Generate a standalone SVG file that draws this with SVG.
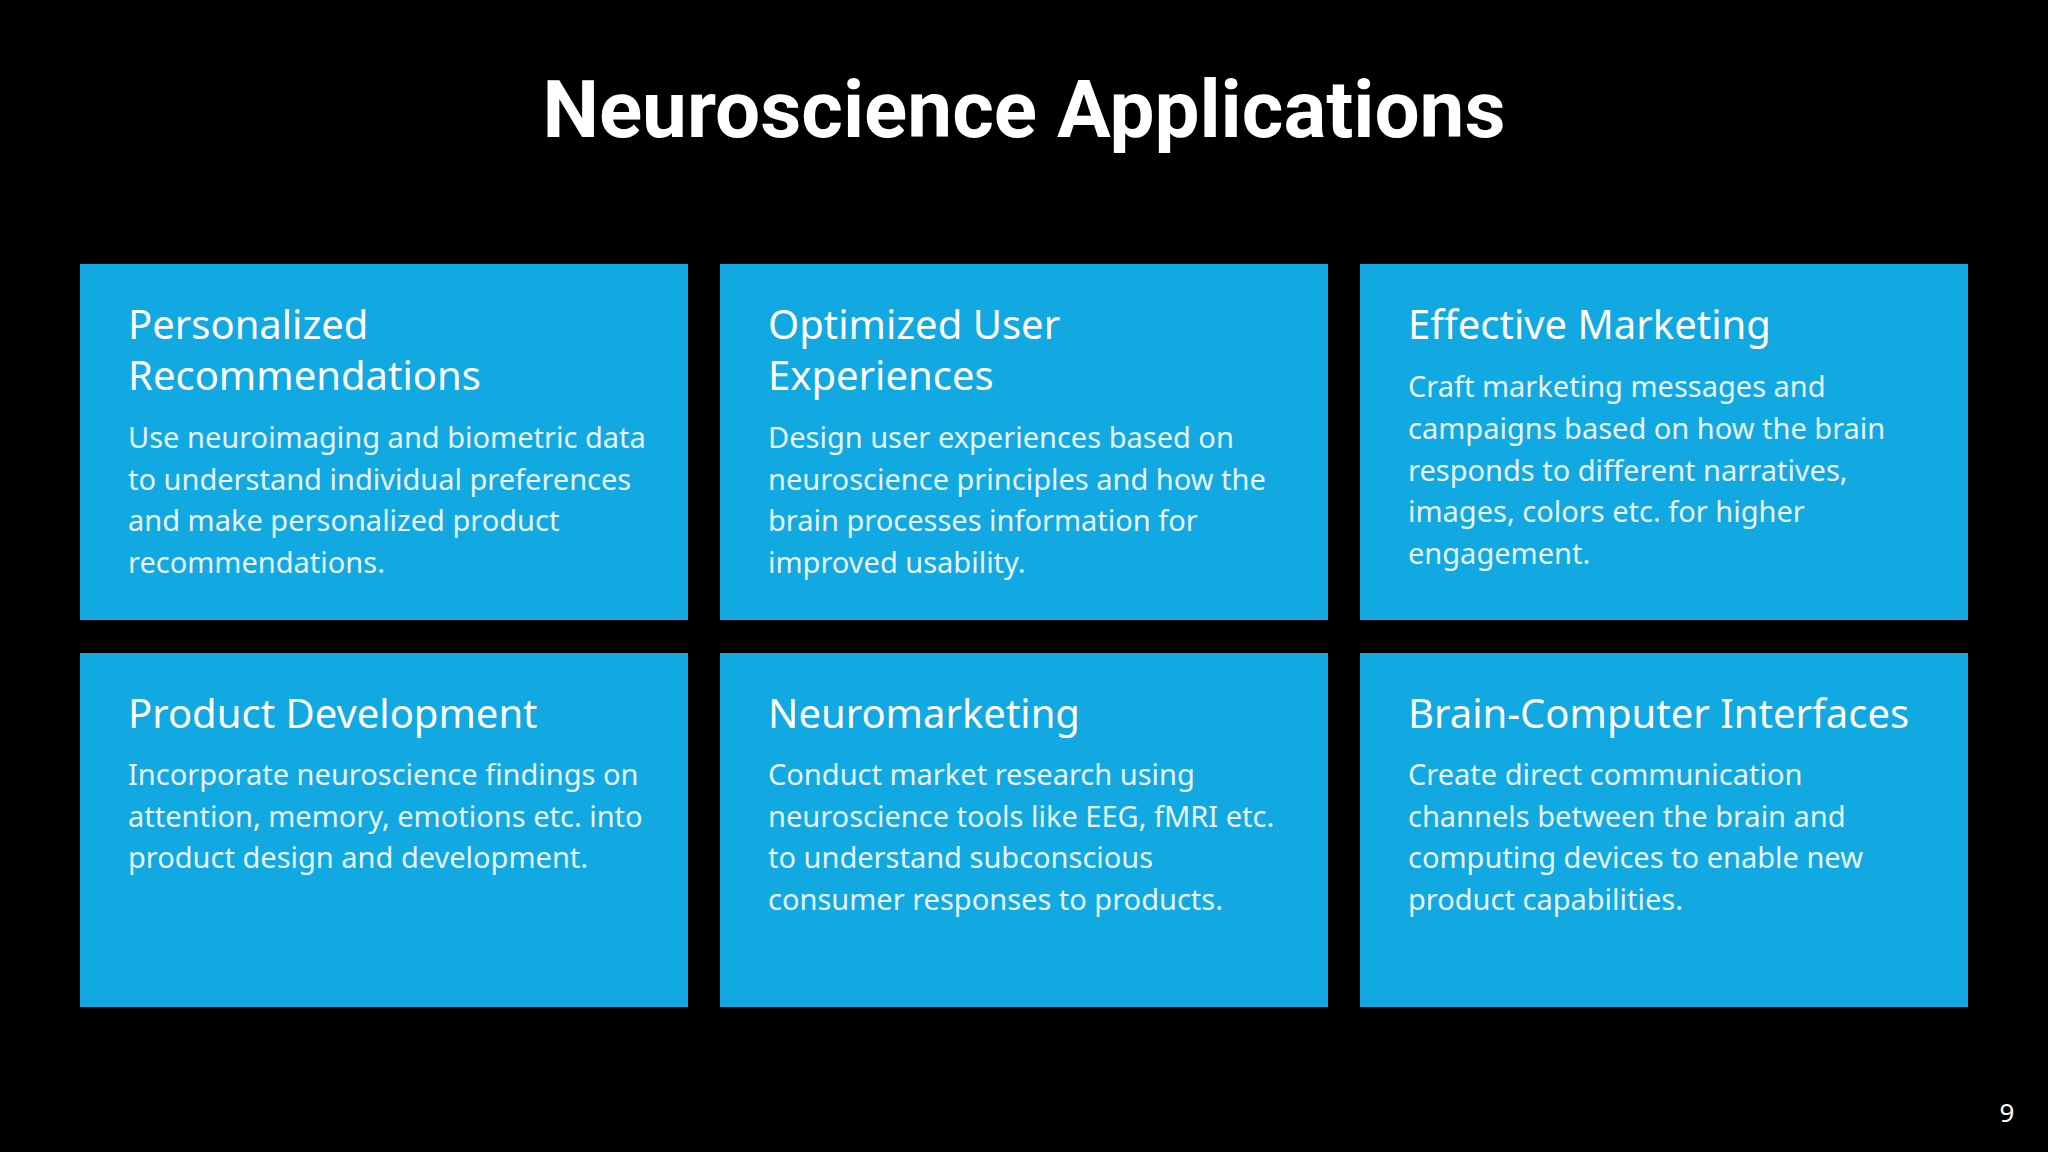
<svg xmlns="http://www.w3.org/2000/svg" width="2048" height="1152" viewBox="0 0 2048 1152">
<style>
.card{fill:#12a8e2}
.h{font-family:"Noto Sans","Open Sans",sans-serif;font-size:40px;fill:#fff}
.b{font-family:"Noto Sans","Open Sans",sans-serif;font-size:29px;fill:#e6f4fb}
</style>
<rect width="2048" height="1152" fill="#000"/>
<text x="1024" y="137" text-anchor="middle" font-family="Roboto,sans-serif" font-weight="bold" font-size="80" fill="#fff">Neuroscience Applications</text>
<g id="card1"><rect class="card" x="80" y="264" width="608" height="356"/>
<text class="h" x="128" y="339">Personalized</text><text class="h" x="128" y="390">Recommendations</text>
<text class="b"><tspan x="128" y="448">Use neuroimaging and biometric data</tspan><tspan x="128" y="490">to understand individual preferences</tspan><tspan x="128" y="531">and make personalized product</tspan><tspan x="128" y="573">recommendations.</tspan></text></g>
<g id="card2"><rect class="card" x="720" y="264" width="608" height="356"/>
<text class="h" x="768" y="339">Optimized User</text><text class="h" x="768" y="390">Experiences</text>
<text class="b"><tspan x="768" y="448">Design user experiences based on</tspan><tspan x="768" y="490">neuroscience principles and how the</tspan><tspan x="768" y="531">brain processes information for</tspan><tspan x="768" y="573">improved usability.</tspan></text></g>
<g id="card3"><rect class="card" x="1360" y="264" width="608" height="356"/>
<text class="h" x="1408" y="339">Effective Marketing</text>
<text class="b"><tspan x="1408" y="397">Craft marketing messages and</tspan><tspan x="1408" y="439">campaigns based on how the brain</tspan><tspan x="1408" y="481">responds to different narratives,</tspan><tspan x="1408" y="522">images, colors etc. for higher</tspan><tspan x="1408" y="564">engagement.</tspan></text></g>
<g id="card4"><rect class="card" x="80" y="653" width="608" height="354"/>
<text class="h" x="128" y="728">Product Development</text>
<text class="b"><tspan x="128" y="785">Incorporate neuroscience findings on</tspan><tspan x="128" y="827">attention, memory, emotions etc. into</tspan><tspan x="128" y="868">product design and development.</tspan></text></g>
<g id="card5"><rect class="card" x="720" y="653" width="608" height="354"/>
<text class="h" x="768" y="728">Neuromarketing</text>
<text class="b"><tspan x="768" y="785">Conduct market research using</tspan><tspan x="768" y="827">neuroscience tools like EEG, fMRI etc.</tspan><tspan x="768" y="868">to understand subconscious</tspan><tspan x="768" y="910">consumer responses to products.</tspan></text></g>
<g id="card6"><rect class="card" x="1360" y="653" width="608" height="354"/>
<text class="h" x="1408" y="728">Brain-Computer Interfaces</text>
<text class="b"><tspan x="1408" y="785">Create direct communication</tspan><tspan x="1408" y="827">channels between the brain and</tspan><tspan x="1408" y="868">computing devices to enable new</tspan><tspan x="1408" y="910">product capabilities.</tspan></text></g>
<g id="connectors"/>
<text x="2007" y="1122" text-anchor="middle" font-family="Noto Sans,sans-serif" font-size="26" fill="#fff">9</text>
</svg>
